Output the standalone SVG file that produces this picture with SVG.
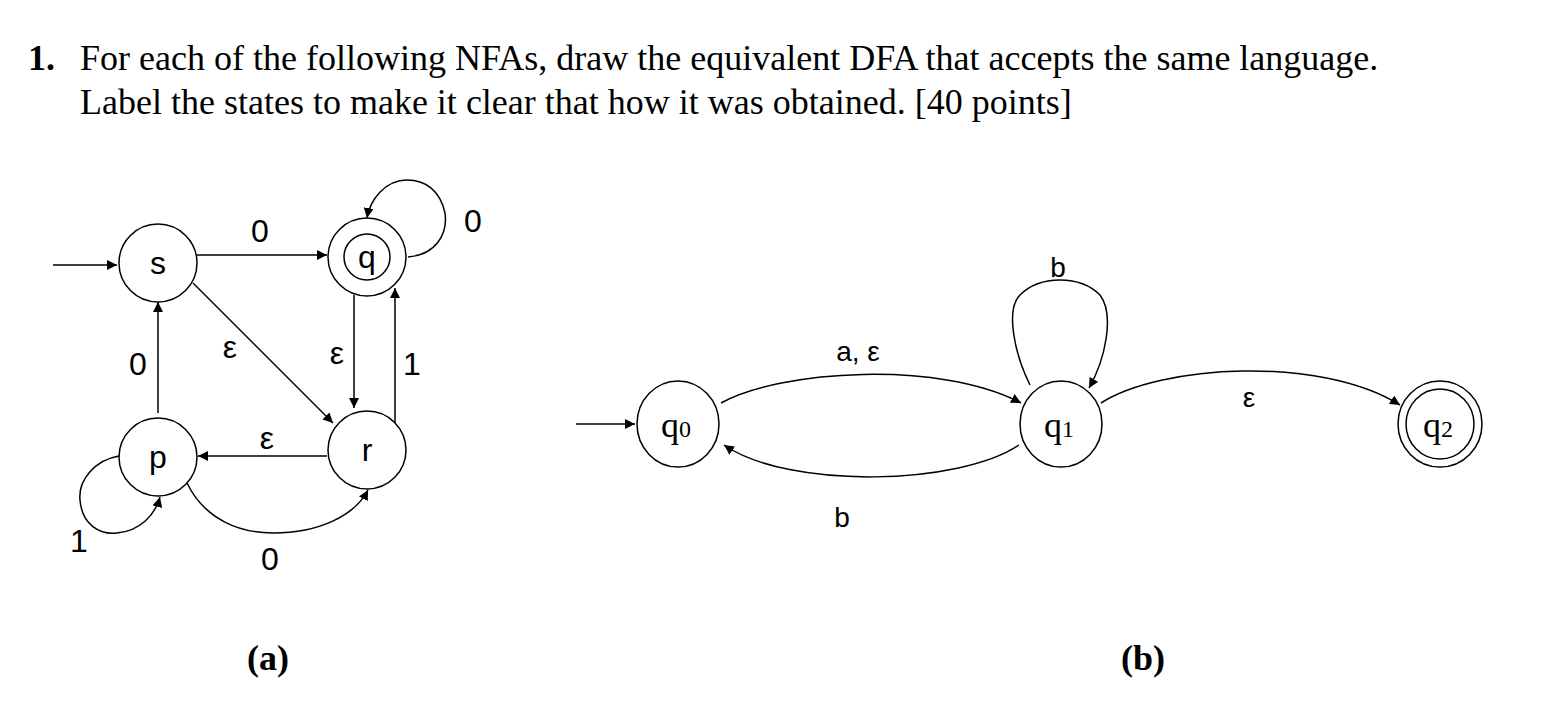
<svg xmlns="http://www.w3.org/2000/svg" width="1546" height="704" viewBox="0 0 1546 704">
<style>
.t{font-family:"Liberation Serif",serif;font-size:36px;fill:#000}
.n{fill:#fff;stroke:#000;stroke-width:1.5}
.e{fill:none;stroke:#000;stroke-width:1.5}
.s{font-family:"Liberation Sans",Arial,sans-serif;font-size:32px;text-anchor:middle;fill:#000}
.sb{font-family:"Liberation Sans",Arial,sans-serif;font-size:28px;text-anchor:middle;fill:#000}
.q{font-family:"Liberation Serif",serif;font-size:36px;text-anchor:middle;fill:#000}
</style>
<defs><marker id="a" viewBox="0 0 10 10" refX="10" refY="5" markerWidth="10" markerHeight="10" markerUnits="userSpaceOnUse" orient="auto"><path d="M0,0L10,5L0,10z" fill="#000"/></marker></defs>
<rect width="1546" height="704" fill="#fff"/>
<text class="t" x="28" y="70"><tspan font-weight="bold">1.</tspan><tspan x="80">For each of the following NFAs, draw the equivalent DFA that accepts the same language.</tspan></text>
<text class="t" x="80" y="114">Label the states to make it clear that how it was obtained. [40 points]</text>
<text class="t" x="268" y="670" font-weight="bold" text-anchor="middle">(a)</text>
<text class="t" x="1143" y="670" font-weight="bold" text-anchor="middle">(b)</text>
<g id="edges">
<path class="e" d="M53,265H117" marker-end="url(#a)"/>
<path class="e" d="M197,255H327" marker-end="url(#a)"/>
<path class="e" d="M193,283L333,423" marker-end="url(#a)"/>
<path class="e" d="M354,295V408" marker-end="url(#a)"/>
<path class="e" d="M395,423V288" marker-end="url(#a)"/>
<path class="e" d="M158,413V302" marker-end="url(#a)"/>
<path class="e" d="M327,456H198" marker-end="url(#a)"/>
<path class="e" d="M187,483C205,520 240,533 273,533C320,533 355,515 368,490" marker-end="url(#a)"/>
<path class="e" d="M119,456C95,460 78,480 80,500C82,525 100,535 117,533C140,531 155,515 160,497" marker-end="url(#a)"/>
<path class="e" d="M408,257C435,255 448,235 445,213C440,190 425,180 407,180C385,180 370,200 367,218" marker-end="url(#a)"/>
<path class="e" d="M576,424H635" marker-end="url(#a)"/>
<path class="e" d="M721,403C780,370 940,360 1021,403" marker-end="url(#a)"/>
<path class="e" d="M1019,445C960,485 790,490 724,445" marker-end="url(#a)"/>
<path class="e" d="M1030,385C1015,355 1005,310 1020,295C1040,275 1080,275 1100,295C1115,315 1105,360 1089,388" marker-end="url(#a)"/>
<path class="e" d="M1101,403C1160,365 1320,355 1400,405" marker-end="url(#a)"/>
</g>
<g id="s"><circle class="n" cx="158" cy="263" r="39"/><text class="s" x="158" y="274">s</text></g>
<g id="q"><circle class="n" cx="367" cy="257" r="39"/><circle class="n" cx="367" cy="257" r="23"/><text class="s" x="367" y="268">q</text></g>
<g id="p"><circle class="n" cx="158" cy="457" r="39"/><text class="s" x="158" y="468">p</text></g>
<g id="r"><circle class="n" cx="367" cy="450" r="39"/><text class="s" x="367" y="461">r</text></g>
<g id="labels-a">
<text class="s" x="260" y="242">0</text>
<text class="s" x="473" y="232">0</text>
<text class="s" x="230" y="358">ε</text>
<text class="s" x="337" y="364">ε</text>
<text class="s" x="412" y="375">1</text>
<text class="s" x="138" y="375">0</text>
<text class="s" x="267" y="449">ε</text>
<text class="s" x="79" y="552">1</text>
<text class="s" x="270" y="570">0</text>
</g>
<g id="q0"><ellipse class="n" cx="678" cy="424" rx="41" ry="43"/><text class="q" x="676" y="437">q<tspan font-size="24">0</tspan></text></g>
<g id="q1"><ellipse class="n" cx="1061" cy="424" rx="41" ry="43"/><text class="q" x="1059" y="437">q<tspan font-size="24">1</tspan></text></g>
<g id="q2"><ellipse class="n" cx="1440" cy="424" rx="42" ry="43"/><ellipse class="n" cx="1440" cy="424" rx="34" ry="35"/><text class="q" x="1438" y="437">q<tspan font-size="24">2</tspan></text></g>
<g id="labels-b">
<text class="sb" x="858" y="361">a, ε</text>
<text class="sb" x="842" y="527">b</text>
<text class="sb" x="1058" y="277">b</text>
<text class="sb" x="1249" y="407">ε</text>
</g>
</svg>
